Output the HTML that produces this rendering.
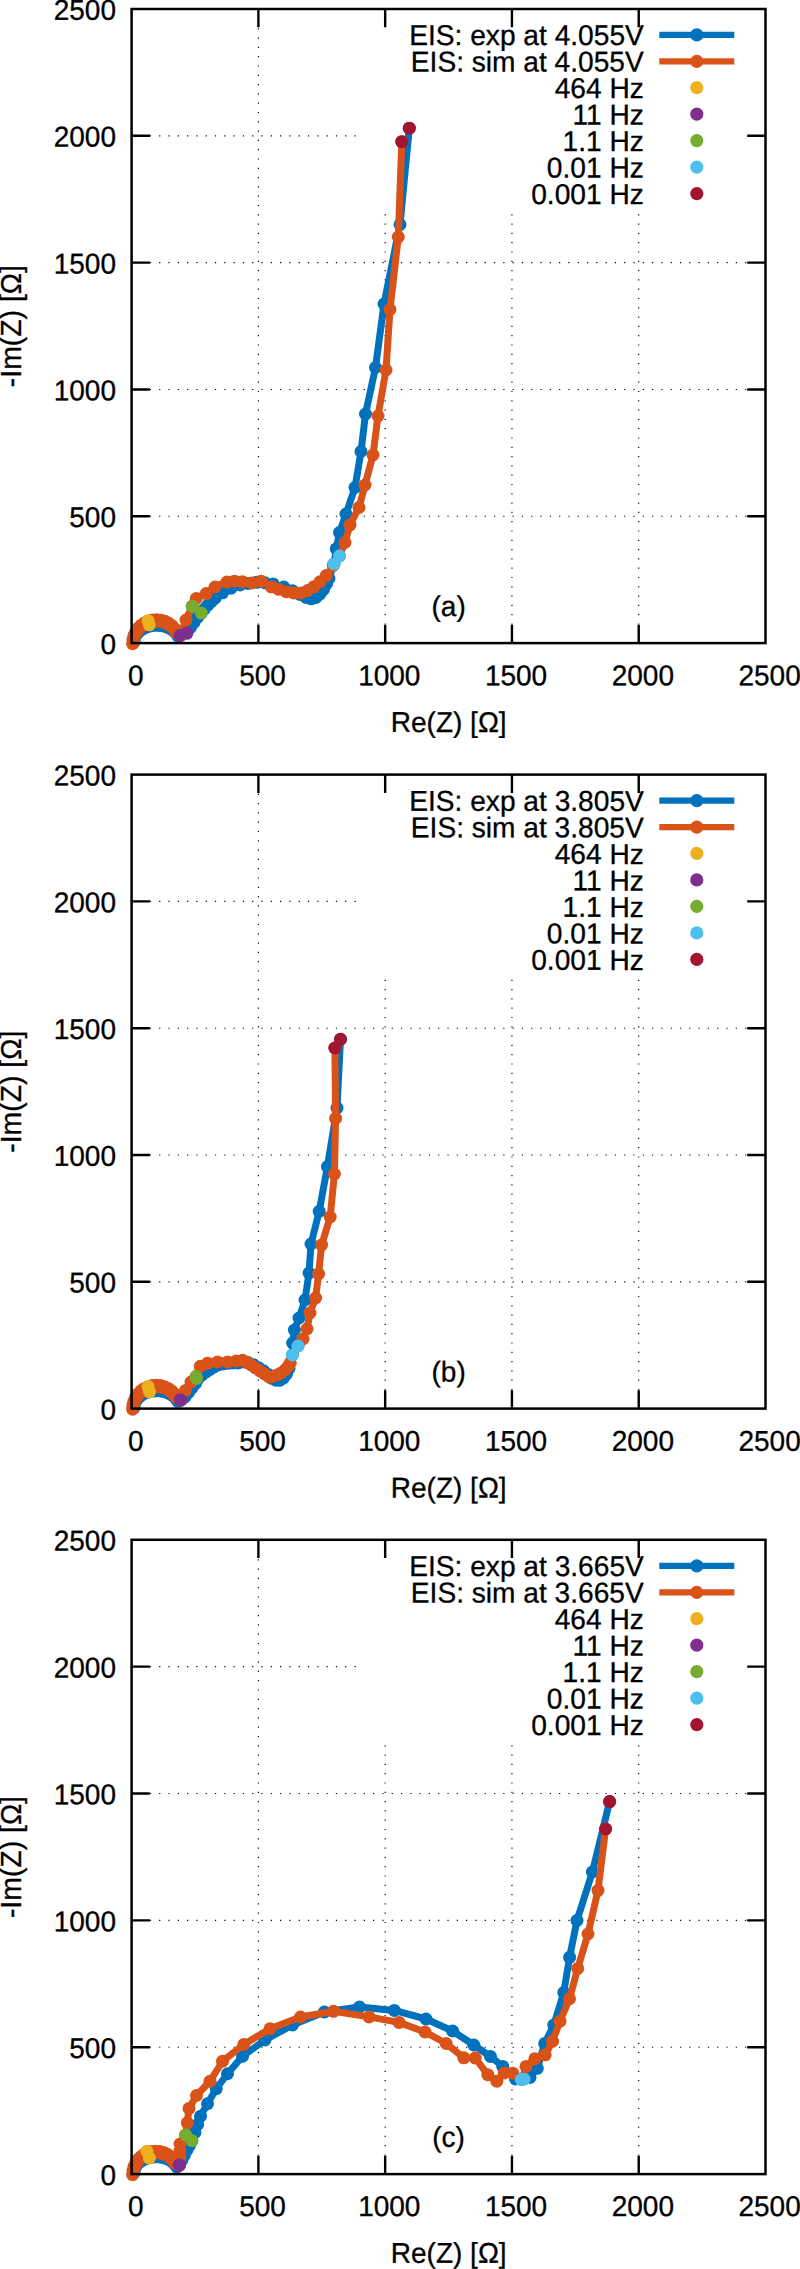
<!DOCTYPE html>
<html lang="en"><head><meta charset="utf-8"><title>EIS Nyquist plots</title>
<style>
html,body{margin:0;padding:0;background:#fff}
svg{display:block}
text{font-family:"Liberation Sans",sans-serif;font-size:28px;fill:#000;stroke:#000;stroke-width:0.3px}
.fr{fill:none;stroke:#000;stroke-width:2.5}
.tk{stroke:#000;stroke-width:2.4;fill:none}
.gd{stroke:#000;stroke-width:1.15;stroke-dasharray:1.2 8.1;fill:none}
.ln{fill:none;stroke-width:7;stroke-linejoin:round;stroke-linecap:butt}
</style></head>
<body>
<svg width="800" height="2269" viewBox="0 0 800 2269">
<rect width="800" height="2269" fill="#fff"/>
<g id="chart1">
<path class="gd" d="M258.38 643.2V9"/>
<path class="gd" d="M131.25 516.28H765.5"/>
<path class="gd" d="M385.16 643.2V212.5"/>
<path class="gd" d="M131.25 389.46H765.5"/>
<path class="gd" d="M511.94 643.2V212.5"/>
<path class="gd" d="M131.25 262.64H765.5"/>
<path class="gd" d="M638.72 643.2V212.5"/>
<path class="gd" d="M131.25 135.82H358"/>
<path class="ln" stroke="#0072bd" d="M134 642.1 L134.39 638.99 L135.56 635.99 L137.46 633.2 L140.03 630.71 L143.18 628.62 L146.81 627 L150.77 625.9 L154.95 625.36 L159.18 625.39 L163.34 626.01 L167.27 627.18 L170.84 628.86 L173.92 631 L176.41 633.53 L178.22 636.35 L183 636 L186.9 633.1 L190.5 627.5 L194 622.5 L197.5 617.5 L201.25 613.1 L204.5 609 L208 605 L211.5 601.5 L215 598.2 L218.5 595.5 L222.5 592.8 L227 590.2 L231 588.2 L235.5 586.4 L240 585 L244 584 L248 583.4 L254 582.8 L257 582.3 L265 582.8 L273.1 583.9 L278.5 585.3 L283.75 587 L288 588.8 L292.5 590.8 L296.5 592.7 L300 594.5 L306 597.5 L311.25 598.8 L316 597.5 L320 594 L323.5 589.5 L326.5 584 L329 578.5 L331.5 571 L334 564 L336.25 548.75 L339.5 532.5 L346 514 L355 487.5 L361 451.5 L365.5 414 L375.5 367.5 L384 304 L400 224.5 L409.3 128.2"/>
<g fill="#0072bd"><circle cx="134" cy="642.1" r="6.5"/><circle cx="134.39" cy="638.99" r="6.5"/><circle cx="135.56" cy="635.99" r="6.5"/><circle cx="137.46" cy="633.2" r="6.5"/><circle cx="140.03" cy="630.71" r="6.5"/><circle cx="143.18" cy="628.62" r="6.5"/><circle cx="146.81" cy="627" r="6.5"/><circle cx="150.77" cy="625.9" r="6.5"/><circle cx="154.95" cy="625.36" r="6.5"/><circle cx="159.18" cy="625.39" r="6.5"/><circle cx="163.34" cy="626.01" r="6.5"/><circle cx="167.27" cy="627.18" r="6.5"/><circle cx="170.84" cy="628.86" r="6.5"/><circle cx="173.92" cy="631" r="6.5"/><circle cx="176.41" cy="633.53" r="6.5"/><circle cx="178.22" cy="636.35" r="6.5"/><circle cx="186.9" cy="633.1" r="6.5"/><circle cx="190.5" cy="627.5" r="6.5"/><circle cx="194" cy="622.5" r="6.5"/><circle cx="197.5" cy="617.5" r="6.5"/><circle cx="201.25" cy="613.1" r="6.5"/><circle cx="204.5" cy="609" r="6.5"/><circle cx="208" cy="605" r="6.5"/><circle cx="211.5" cy="601.5" r="6.5"/><circle cx="215" cy="598.2" r="6.5"/><circle cx="222.5" cy="592.8" r="6.5"/><circle cx="231" cy="588.2" r="6.5"/><circle cx="240" cy="585" r="6.5"/><circle cx="248" cy="583.4" r="6.5"/><circle cx="257" cy="582.3" r="6.5"/><circle cx="265" cy="582.8" r="6.5"/><circle cx="273.1" cy="583.9" r="6.5"/><circle cx="283.75" cy="587" r="6.5"/><circle cx="292.5" cy="590.8" r="6.5"/><circle cx="300" cy="594.5" r="6.5"/><circle cx="306" cy="597.5" r="6.5"/><circle cx="311.25" cy="598.8" r="6.5"/><circle cx="316" cy="597.5" r="6.5"/><circle cx="320" cy="594" r="6.5"/><circle cx="323.5" cy="589.5" r="6.5"/><circle cx="326.5" cy="584" r="6.5"/><circle cx="329" cy="578.5" r="6.5"/><circle cx="334" cy="564" r="6.5"/><circle cx="336.25" cy="548.75" r="6.5"/><circle cx="339.5" cy="532.5" r="6.5"/><circle cx="346" cy="514" r="6.5"/><circle cx="355" cy="487.5" r="6.5"/><circle cx="361" cy="451.5" r="6.5"/><circle cx="365.5" cy="414" r="6.5"/><circle cx="375.5" cy="367.5" r="6.5"/><circle cx="384" cy="304" r="6.5"/><circle cx="400" cy="224.5" r="6.5"/><circle cx="409.3" cy="128.2" r="6.5"/></g>
<path class="ln" stroke="#d95319" d="M132.6 643.7 L132.97 639.48 L134.07 635.39 L135.86 631.56 L138.29 628.1 L141.28 625.14 L144.74 622.75 L148.56 621.02 L152.62 619.99 L156.8 619.71 L160.96 620.17 L164.97 621.36 L168.72 623.26 L172.08 625.79 L174.94 628.88 L177.23 632.43 L180 635.6 L183 628 L186 620 L189 613 L192.25 606.25 L196.25 598.5 L201 595.8 L206.2 593.6 L210.5 590 L215 587 L221 584.2 L227 582 L234.5 581.2 L242.5 581.7 L251.9 583 L261.25 581.3 L266.5 584 L271.25 586.8 L278.75 589.3 L286.25 591.7 L293.75 593 L301.25 593 L307.5 590.6 L313.75 586.8 L320 581.8 L326.25 575.6 L330.5 570 L333.3 565.5 L339.5 556 L345 542.5 L350 525 L359 507.5 L365 485 L373 455 L378 416 L386 370 L390 309.5 L398.3 237 L401.8 141.7"/>
<g fill="#d95319"><circle cx="132.6" cy="643.7" r="6.5"/><circle cx="132.97" cy="639.48" r="6.5"/><circle cx="134.07" cy="635.39" r="6.5"/><circle cx="135.86" cy="631.56" r="6.5"/><circle cx="138.29" cy="628.1" r="6.5"/><circle cx="141.28" cy="625.14" r="6.5"/><circle cx="144.74" cy="622.75" r="6.5"/><circle cx="148.56" cy="621.02" r="6.5"/><circle cx="152.62" cy="619.99" r="6.5"/><circle cx="156.8" cy="619.71" r="6.5"/><circle cx="160.96" cy="620.17" r="6.5"/><circle cx="164.97" cy="621.36" r="6.5"/><circle cx="168.72" cy="623.26" r="6.5"/><circle cx="172.08" cy="625.79" r="6.5"/><circle cx="174.94" cy="628.88" r="6.5"/><circle cx="177.23" cy="632.43" r="6.5"/><circle cx="180" cy="635.6" r="6.5"/><circle cx="186" cy="620" r="6.5"/><circle cx="192.25" cy="606.25" r="6.5"/><circle cx="196.25" cy="598.5" r="6.5"/><circle cx="206.2" cy="593.6" r="6.5"/><circle cx="215" cy="587" r="6.5"/><circle cx="227" cy="582" r="6.5"/><circle cx="234.5" cy="581.2" r="6.5"/><circle cx="242.5" cy="581.7" r="6.5"/><circle cx="251.9" cy="583" r="6.5"/><circle cx="261.25" cy="581.3" r="6.5"/><circle cx="271.25" cy="586.8" r="6.5"/><circle cx="278.75" cy="589.3" r="6.5"/><circle cx="286.25" cy="591.7" r="6.5"/><circle cx="293.75" cy="593" r="6.5"/><circle cx="301.25" cy="593" r="6.5"/><circle cx="307.5" cy="590.6" r="6.5"/><circle cx="313.75" cy="586.8" r="6.5"/><circle cx="320" cy="581.8" r="6.5"/><circle cx="326.25" cy="575.6" r="6.5"/><circle cx="333.3" cy="565.5" r="6.5"/><circle cx="339.5" cy="556" r="6.5"/><circle cx="345" cy="542.5" r="6.5"/><circle cx="350" cy="525" r="6.5"/><circle cx="359" cy="507.5" r="6.5"/><circle cx="365" cy="485" r="6.5"/><circle cx="373" cy="455" r="6.5"/><circle cx="378" cy="416" r="6.5"/><circle cx="386" cy="370" r="6.5"/><circle cx="390" cy="309.5" r="6.5"/><circle cx="398.3" cy="237" r="6.5"/><circle cx="401.8" cy="141.7" r="6.5"/></g>
<g fill="#d95319"><circle cx="133.8" cy="639" r="6.5"/><circle cx="135.07" cy="635.01" r="6.5"/><circle cx="137.06" cy="631.31" r="6.5"/><circle cx="139.71" cy="628.04" r="6.5"/><circle cx="142.93" cy="625.31" r="6.5"/><circle cx="146.61" cy="623.2" r="6.5"/><circle cx="150.62" cy="621.8" r="6.5"/><circle cx="154.82" cy="621.15" r="6.5"/><circle cx="159.07" cy="621.26" r="6.5"/><circle cx="163.23" cy="622.15" r="6.5"/><circle cx="167.15" cy="623.77" r="6.5"/><circle cx="170.7" cy="626.08" r="6.5"/><circle cx="173.76" cy="628.99" r="6.5"/><circle cx="176.22" cy="632.4" r="6.5"/></g>
<g fill="#edb120"><circle cx="149.3" cy="624.8" r="6.5"/><circle cx="148" cy="620.7" r="6.5"/></g>
<g fill="#7e2f8e"><circle cx="186.9" cy="633.1" r="6.5"/><circle cx="180" cy="635.6" r="6.5"/></g>
<g fill="#77ac30"><circle cx="201.25" cy="613.1" r="6.5"/><circle cx="192.25" cy="606.25" r="6.5"/></g>
<g fill="#4dbeee"><circle cx="334" cy="564" r="6.5"/><circle cx="339.5" cy="556" r="6.5"/></g>
<g fill="#a2142f"><circle cx="409.3" cy="128.2" r="6.5"/><circle cx="401.8" cy="141.7" r="6.5"/></g>
<path class="tk" d="M258.38 643.1v-18.3M258.38 9v18.3M131.6 516.28h18.3M765.5 516.28h-18.3M385.16 643.1v-18.3M385.16 9v18.3M131.6 389.46h18.3M765.5 389.46h-18.3M511.94 643.1v-18.3M511.94 9v18.3M131.6 262.64h18.3M765.5 262.64h-18.3M638.72 643.1v-18.3M638.72 9v18.3M131.6 135.82h18.3M765.5 135.82h-18.3"/>
<rect class="fr" x="131.6" y="9" width="633.9" height="634.1"/>
<text transform="translate(116 653.9) rotate(0.03) scale(1 1.02)" text-anchor="end">0</text><text transform="translate(135.7 685.2) rotate(0.03) scale(1 1.02)" text-anchor="middle">0</text>
<text transform="translate(116 527.08) rotate(0.03) scale(1 1.02)" text-anchor="end">500</text><text transform="translate(262.48 685.2) rotate(0.03) scale(1 1.02)" text-anchor="middle">500</text>
<text transform="translate(116 400.26) rotate(0.03) scale(1 1.02)" text-anchor="end">1000</text><text transform="translate(389.26 685.2) rotate(0.03) scale(1 1.02)" text-anchor="middle">1000</text>
<text transform="translate(116 273.44) rotate(0.03) scale(1 1.02)" text-anchor="end">1500</text><text transform="translate(516.04 685.2) rotate(0.03) scale(1 1.02)" text-anchor="middle">1500</text>
<text transform="translate(116 146.62) rotate(0.03) scale(1 1.02)" text-anchor="end">2000</text><text transform="translate(642.82 685.2) rotate(0.03) scale(1 1.02)" text-anchor="middle">2000</text>
<text transform="translate(116 19.8) rotate(0.03) scale(1 1.02)" text-anchor="end">2500</text><text transform="translate(769.6 685.2) rotate(0.03) scale(1 1.02)" text-anchor="middle">2500</text>
<text transform="translate(448.7 731.9) rotate(0.03) scale(1 1.02)" text-anchor="middle">Re(Z) [Ω]</text>
<text transform="translate(21.1 326.15) rotate(-90) scale(1 1.02)" text-anchor="middle" style="font-size:28.4px">-Im(Z) [Ω]</text>
<text transform="translate(448.6 615.9) rotate(0.03) scale(1 1.02)" text-anchor="middle">(a)</text>
<text transform="translate(643.8 45.1) rotate(0.03) scale(1.005 1.02)" text-anchor="end">EIS: exp at 4.055V</text><path stroke="#0072bd" stroke-width="6.2" d="M659.3 34.9H734.3"/><circle cx="696.8" cy="34.9" r="6.6" fill="#0072bd"/>
<text transform="translate(643.8 71.6) rotate(0.03) scale(1.005 1.02)" text-anchor="end">EIS: sim at 4.055V</text><path stroke="#d95319" stroke-width="6.2" d="M659.3 61.4H734.3"/><circle cx="696.8" cy="61.4" r="6.6" fill="#d95319"/>
<text transform="translate(643.8 98.1) rotate(0.03) scale(1.005 1.02)" text-anchor="end">464 Hz</text><circle cx="696.8" cy="87.6" r="6.6" fill="#edb120"/>
<text transform="translate(643.8 124.6) rotate(0.03) scale(1.005 1.02)" text-anchor="end">11 Hz</text><circle cx="696.8" cy="114.1" r="6.6" fill="#7e2f8e"/>
<text transform="translate(643.8 151.1) rotate(0.03) scale(1.005 1.02)" text-anchor="end">1.1 Hz</text><circle cx="696.8" cy="140.6" r="6.6" fill="#77ac30"/>
<text transform="translate(643.8 177.6) rotate(0.03) scale(1.005 1.02)" text-anchor="end">0.01 Hz</text><circle cx="696.8" cy="167.1" r="6.6" fill="#4dbeee"/>
<text transform="translate(643.8 204.1) rotate(0.03) scale(1.005 1.02)" text-anchor="end">0.001 Hz</text><circle cx="696.8" cy="193.6" r="6.6" fill="#a2142f"/>
</g>
<g id="chart2">
<path class="gd" d="M258.38 1408.7V774.6"/>
<path class="gd" d="M131.25 1281.8H765.5"/>
<path class="gd" d="M385.16 1408.7V978.1"/>
<path class="gd" d="M131.25 1155H765.5"/>
<path class="gd" d="M511.94 1408.7V978.1"/>
<path class="gd" d="M131.25 1028.2H765.5"/>
<path class="gd" d="M638.72 1408.7V978.1"/>
<path class="gd" d="M131.25 901.4H358"/>
<path class="ln" stroke="#0072bd" d="M134 1407.6 L134.38 1404.53 L135.52 1401.56 L137.38 1398.8 L139.89 1396.33 L142.97 1394.24 L146.52 1392.6 L150.41 1391.47 L154.52 1390.88 L158.71 1390.86 L162.83 1391.4 L166.75 1392.48 L170.33 1394.08 L173.46 1396.13 L176.02 1398.57 L177.94 1401.31 L180.6 1400 L185 1397 L188.5 1392.5 L192 1388 L195.5 1383.5 L197.5 1379.5 L202 1375 L206 1372 L210 1369.3 L214 1367 L218 1365 L223 1364 L228 1363.3 L233 1363 L238 1363 L243 1362 L248 1362.6 L253.5 1364.7 L258.5 1367.7 L263.5 1370.8 L268.3 1374.4 L272 1378.3 L276 1380.2 L280 1380.2 L283.5 1378 L286.5 1374 L289 1368.5 L291 1361.5 L292.4 1355 L292.6 1343 L294.4 1330 L299 1318 L305 1300 L309 1273 L311 1244 L319.2 1211.3 L327.4 1166.7 L337 1108 L340.5 1039.25"/>
<g fill="#0072bd"><circle cx="134" cy="1407.6" r="6.5"/><circle cx="134.38" cy="1404.53" r="6.5"/><circle cx="135.52" cy="1401.56" r="6.5"/><circle cx="137.38" cy="1398.8" r="6.5"/><circle cx="139.89" cy="1396.33" r="6.5"/><circle cx="142.97" cy="1394.24" r="6.5"/><circle cx="146.52" cy="1392.6" r="6.5"/><circle cx="150.41" cy="1391.47" r="6.5"/><circle cx="154.52" cy="1390.88" r="6.5"/><circle cx="158.71" cy="1390.86" r="6.5"/><circle cx="162.83" cy="1391.4" r="6.5"/><circle cx="166.75" cy="1392.48" r="6.5"/><circle cx="170.33" cy="1394.08" r="6.5"/><circle cx="173.46" cy="1396.13" r="6.5"/><circle cx="176.02" cy="1398.57" r="6.5"/><circle cx="177.94" cy="1401.31" r="6.5"/><circle cx="180.6" cy="1400" r="6.5"/><circle cx="185" cy="1397" r="6.5"/><circle cx="188.5" cy="1392.5" r="6.5"/><circle cx="192" cy="1388" r="6.5"/><circle cx="195.5" cy="1383.5" r="6.5"/><circle cx="197.5" cy="1379.5" r="6.5"/><circle cx="202" cy="1375" r="6.5"/><circle cx="206" cy="1372" r="6.5"/><circle cx="210" cy="1369.3" r="6.5"/><circle cx="214" cy="1367" r="6.5"/><circle cx="218" cy="1365" r="6.5"/><circle cx="223" cy="1364" r="6.5"/><circle cx="228" cy="1363.3" r="6.5"/><circle cx="233" cy="1363" r="6.5"/><circle cx="238" cy="1363" r="6.5"/><circle cx="243" cy="1362" r="6.5"/><circle cx="248" cy="1362.6" r="6.5"/><circle cx="253.5" cy="1364.7" r="6.5"/><circle cx="258.5" cy="1367.7" r="6.5"/><circle cx="263.5" cy="1370.8" r="6.5"/><circle cx="268.3" cy="1374.4" r="6.5"/><circle cx="272" cy="1378.3" r="6.5"/><circle cx="276" cy="1380.2" r="6.5"/><circle cx="280" cy="1380.2" r="6.5"/><circle cx="283.5" cy="1378" r="6.5"/><circle cx="286.5" cy="1374" r="6.5"/><circle cx="289" cy="1368.5" r="6.5"/><circle cx="292.4" cy="1355" r="6.5"/><circle cx="292.6" cy="1343" r="6.5"/><circle cx="294.4" cy="1330" r="6.5"/><circle cx="299" cy="1318" r="6.5"/><circle cx="305" cy="1300" r="6.5"/><circle cx="309" cy="1273" r="6.5"/><circle cx="311" cy="1244" r="6.5"/><circle cx="319.2" cy="1211.3" r="6.5"/><circle cx="327.4" cy="1166.7" r="6.5"/><circle cx="337" cy="1108" r="6.5"/><circle cx="340.5" cy="1039.25" r="6.5"/></g>
<path class="ln" stroke="#d95319" d="M132.6 1409.2 L132.96 1405.03 L134.03 1400.99 L135.78 1397.2 L138.14 1393.77 L141.07 1390.81 L144.45 1388.42 L148.19 1386.65 L152.18 1385.56 L156.3 1385.2 L160.42 1385.56 L164.41 1386.65 L168.15 1388.42 L171.53 1390.81 L174.46 1393.77 L176.82 1397.2 L180.6 1400 L183 1395 L185.5 1390.5 L188 1386.5 L191 1382 L196 1376.8 L198 1370 L200.3 1366.3 L204 1365 L207.6 1363.2 L212 1362 L217.5 1362 L222.5 1362 L227.5 1362 L232 1361.5 L236.2 1361 L242.6 1360.3 L246.8 1362.2 L251 1365 L255.5 1368 L260 1371 L264.5 1374 L269 1377 L273 1376.5 L277 1375 L281 1373 L285 1370 L288 1366.5 L290.3 1362.8 L298 1346 L303 1339 L307 1329 L310 1313 L315.6 1298 L318.6 1274 L321.6 1245 L330.2 1217 L334.4 1174 L335.6 1118.4 L334.9 1048"/>
<g fill="#d95319"><circle cx="132.6" cy="1409.2" r="6.5"/><circle cx="132.96" cy="1405.03" r="6.5"/><circle cx="134.03" cy="1400.99" r="6.5"/><circle cx="135.78" cy="1397.2" r="6.5"/><circle cx="138.14" cy="1393.77" r="6.5"/><circle cx="141.07" cy="1390.81" r="6.5"/><circle cx="144.45" cy="1388.42" r="6.5"/><circle cx="148.19" cy="1386.65" r="6.5"/><circle cx="152.18" cy="1385.56" r="6.5"/><circle cx="156.3" cy="1385.2" r="6.5"/><circle cx="160.42" cy="1385.56" r="6.5"/><circle cx="164.41" cy="1386.65" r="6.5"/><circle cx="168.15" cy="1388.42" r="6.5"/><circle cx="171.53" cy="1390.81" r="6.5"/><circle cx="174.46" cy="1393.77" r="6.5"/><circle cx="176.82" cy="1397.2" r="6.5"/><circle cx="180.6" cy="1400" r="6.5"/><circle cx="185.5" cy="1390.5" r="6.5"/><circle cx="191" cy="1382" r="6.5"/><circle cx="196" cy="1376.8" r="6.5"/><circle cx="200.3" cy="1366.3" r="6.5"/><circle cx="207.6" cy="1363.2" r="6.5"/><circle cx="217.5" cy="1362" r="6.5"/><circle cx="227.5" cy="1362" r="6.5"/><circle cx="236.2" cy="1361" r="6.5"/><circle cx="242.6" cy="1360.3" r="6.5"/><circle cx="246.8" cy="1362.2" r="6.5"/><circle cx="251" cy="1365" r="6.5"/><circle cx="255.5" cy="1368" r="6.5"/><circle cx="260" cy="1371" r="6.5"/><circle cx="264.5" cy="1374" r="6.5"/><circle cx="269" cy="1377" r="6.5"/><circle cx="273" cy="1376.5" r="6.5"/><circle cx="277" cy="1375" r="6.5"/><circle cx="281" cy="1373" r="6.5"/><circle cx="285" cy="1370" r="6.5"/><circle cx="288" cy="1366.5" r="6.5"/><circle cx="290.3" cy="1362.8" r="6.5"/><circle cx="298" cy="1346" r="6.5"/><circle cx="303" cy="1339" r="6.5"/><circle cx="307" cy="1329" r="6.5"/><circle cx="310" cy="1313" r="6.5"/><circle cx="315.6" cy="1298" r="6.5"/><circle cx="318.6" cy="1274" r="6.5"/><circle cx="321.6" cy="1245" r="6.5"/><circle cx="330.2" cy="1217" r="6.5"/><circle cx="334.4" cy="1174" r="6.5"/><circle cx="335.6" cy="1118.4" r="6.5"/><circle cx="334.9" cy="1048" r="6.5"/></g>
<g fill="#d95319"><circle cx="133.8" cy="1404.5" r="6.5"/><circle cx="135.04" cy="1400.57" r="6.5"/><circle cx="136.99" cy="1396.92" r="6.5"/><circle cx="139.58" cy="1393.68" r="6.5"/><circle cx="142.73" cy="1390.95" r="6.5"/><circle cx="146.33" cy="1388.83" r="6.5"/><circle cx="150.26" cy="1387.39" r="6.5"/><circle cx="154.39" cy="1386.68" r="6.5"/><circle cx="158.58" cy="1386.71" r="6.5"/><circle cx="162.7" cy="1387.49" r="6.5"/><circle cx="166.6" cy="1388.99" r="6.5"/><circle cx="170.17" cy="1391.17" r="6.5"/><circle cx="173.27" cy="1393.94" r="6.5"/><circle cx="175.81" cy="1397.22" r="6.5"/></g>
<g fill="#edb120"><circle cx="149.5" cy="1392" r="6.5"/><circle cx="148" cy="1386.5" r="6.5"/></g>
<g fill="#7e2f8e"><circle cx="180.9" cy="1400.2" r="6.5"/><circle cx="180.3" cy="1399.8" r="6.5"/></g>
<g fill="#77ac30"><circle cx="196.6" cy="1378.5" r="6.5"/><circle cx="195.9" cy="1376.6" r="6.5"/></g>
<g fill="#4dbeee"><circle cx="292.4" cy="1355" r="6.5"/><circle cx="298" cy="1346" r="6.5"/></g>
<g fill="#a2142f"><circle cx="340.5" cy="1039.25" r="6.5"/><circle cx="334.9" cy="1048" r="6.5"/></g>
<path class="tk" d="M258.38 1408.6v-18.3M258.38 774.6v18.3M131.6 1281.8h18.3M765.5 1281.8h-18.3M385.16 1408.6v-18.3M385.16 774.6v18.3M131.6 1155h18.3M765.5 1155h-18.3M511.94 1408.6v-18.3M511.94 774.6v18.3M131.6 1028.2h18.3M765.5 1028.2h-18.3M638.72 1408.6v-18.3M638.72 774.6v18.3M131.6 901.4h18.3M765.5 901.4h-18.3"/>
<rect class="fr" x="131.6" y="774.6" width="633.9" height="634"/>
<text transform="translate(116 1419.4) rotate(0.03) scale(1 1.02)" text-anchor="end">0</text><text transform="translate(135.7 1450.8) rotate(0.03) scale(1 1.02)" text-anchor="middle">0</text>
<text transform="translate(116 1292.6) rotate(0.03) scale(1 1.02)" text-anchor="end">500</text><text transform="translate(262.48 1450.8) rotate(0.03) scale(1 1.02)" text-anchor="middle">500</text>
<text transform="translate(116 1165.8) rotate(0.03) scale(1 1.02)" text-anchor="end">1000</text><text transform="translate(389.26 1450.8) rotate(0.03) scale(1 1.02)" text-anchor="middle">1000</text>
<text transform="translate(116 1039) rotate(0.03) scale(1 1.02)" text-anchor="end">1500</text><text transform="translate(516.04 1450.8) rotate(0.03) scale(1 1.02)" text-anchor="middle">1500</text>
<text transform="translate(116 912.2) rotate(0.03) scale(1 1.02)" text-anchor="end">2000</text><text transform="translate(642.82 1450.8) rotate(0.03) scale(1 1.02)" text-anchor="middle">2000</text>
<text transform="translate(116 785.4) rotate(0.03) scale(1 1.02)" text-anchor="end">2500</text><text transform="translate(769.6 1450.8) rotate(0.03) scale(1 1.02)" text-anchor="middle">2500</text>
<text transform="translate(448.7 1497.5) rotate(0.03) scale(1 1.02)" text-anchor="middle">Re(Z) [Ω]</text>
<text transform="translate(21.1 1091.7) rotate(-90) scale(1 1.02)" text-anchor="middle" style="font-size:28.4px">-Im(Z) [Ω]</text>
<text transform="translate(448.6 1381.5) rotate(0.03) scale(1 1.02)" text-anchor="middle">(b)</text>
<text transform="translate(643.8 810.9) rotate(0.03) scale(1.005 1.02)" text-anchor="end">EIS: exp at 3.805V</text><path stroke="#0072bd" stroke-width="6.2" d="M659.3 800.7H734.3"/><circle cx="696.8" cy="800.7" r="6.6" fill="#0072bd"/>
<text transform="translate(643.8 837.4) rotate(0.03) scale(1.005 1.02)" text-anchor="end">EIS: sim at 3.805V</text><path stroke="#d95319" stroke-width="6.2" d="M659.3 827.2H734.3"/><circle cx="696.8" cy="827.2" r="6.6" fill="#d95319"/>
<text transform="translate(643.8 863.9) rotate(0.03) scale(1.005 1.02)" text-anchor="end">464 Hz</text><circle cx="696.8" cy="853.4" r="6.6" fill="#edb120"/>
<text transform="translate(643.8 890.4) rotate(0.03) scale(1.005 1.02)" text-anchor="end">11 Hz</text><circle cx="696.8" cy="879.9" r="6.6" fill="#7e2f8e"/>
<text transform="translate(643.8 916.9) rotate(0.03) scale(1.005 1.02)" text-anchor="end">1.1 Hz</text><circle cx="696.8" cy="906.4" r="6.6" fill="#77ac30"/>
<text transform="translate(643.8 943.4) rotate(0.03) scale(1.005 1.02)" text-anchor="end">0.01 Hz</text><circle cx="696.8" cy="932.9" r="6.6" fill="#4dbeee"/>
<text transform="translate(643.8 969.9) rotate(0.03) scale(1.005 1.02)" text-anchor="end">0.001 Hz</text><circle cx="696.8" cy="959.4" r="6.6" fill="#a2142f"/>
</g>
<g id="chart3">
<path class="gd" d="M258.38 2174.2V1539.8"/>
<path class="gd" d="M131.25 2047.24H765.5"/>
<path class="gd" d="M385.16 2174.2V1743.3"/>
<path class="gd" d="M131.25 1920.38H765.5"/>
<path class="gd" d="M511.94 2174.2V1743.3"/>
<path class="gd" d="M131.25 1793.52H765.5"/>
<path class="gd" d="M638.72 2174.2V1743.3"/>
<path class="gd" d="M131.25 1666.66H358"/>
<path class="ln" stroke="#0072bd" d="M133.9 2173 L134.28 2170.04 L135.39 2167.18 L137.21 2164.51 L139.66 2162.13 L142.68 2160.12 L146.15 2158.54 L149.95 2157.45 L153.97 2156.88 L158.07 2156.86 L162.1 2157.38 L165.93 2158.42 L169.43 2159.96 L172.49 2161.94 L175 2164.29 L176.88 2166.93 L179.4 2165 L182 2160 L184.5 2155 L187 2150 L189.5 2145.5 L191.9 2140.6 L193.5 2136.5 L195 2132.5 L197.7 2124.5 L200.5 2116.25 L207.5 2103.75 L216.25 2088.75 L227.5 2073.75 L242.5 2056.25 L265 2040 L292.5 2025 L324.4 2012 L359.5 2007 L394.25 2010.4 L426 2019 L452.6 2031 L473.8 2045 L490.5 2056.5 L502.7 2066.4 L515.5 2079 L530 2077.5 L537.3 2068.3 L544.7 2043.5 L553.75 2025 L563.75 1992.5 L569.6 1957.3 L577 1920.4 L592.4 1872 L609.6 1801.6"/>
<g fill="#0072bd"><circle cx="133.9" cy="2173" r="6.5"/><circle cx="134.28" cy="2170.04" r="6.5"/><circle cx="135.39" cy="2167.18" r="6.5"/><circle cx="137.21" cy="2164.51" r="6.5"/><circle cx="139.66" cy="2162.13" r="6.5"/><circle cx="142.68" cy="2160.12" r="6.5"/><circle cx="146.15" cy="2158.54" r="6.5"/><circle cx="149.95" cy="2157.45" r="6.5"/><circle cx="153.97" cy="2156.88" r="6.5"/><circle cx="158.07" cy="2156.86" r="6.5"/><circle cx="162.1" cy="2157.38" r="6.5"/><circle cx="165.93" cy="2158.42" r="6.5"/><circle cx="169.43" cy="2159.96" r="6.5"/><circle cx="172.49" cy="2161.94" r="6.5"/><circle cx="175" cy="2164.29" r="6.5"/><circle cx="176.88" cy="2166.93" r="6.5"/><circle cx="179.4" cy="2165" r="6.5"/><circle cx="182" cy="2160" r="6.5"/><circle cx="184.5" cy="2155" r="6.5"/><circle cx="187" cy="2150" r="6.5"/><circle cx="189.5" cy="2145.5" r="6.5"/><circle cx="191.9" cy="2140.6" r="6.5"/><circle cx="195" cy="2132.5" r="6.5"/><circle cx="197.7" cy="2124.5" r="6.5"/><circle cx="200.5" cy="2116.25" r="6.5"/><circle cx="207.5" cy="2103.75" r="6.5"/><circle cx="216.25" cy="2088.75" r="6.5"/><circle cx="227.5" cy="2073.75" r="6.5"/><circle cx="242.5" cy="2056.25" r="6.5"/><circle cx="265" cy="2040" r="6.5"/><circle cx="292.5" cy="2025" r="6.5"/><circle cx="324.4" cy="2012" r="6.5"/><circle cx="359.5" cy="2007" r="6.5"/><circle cx="394.25" cy="2010.4" r="6.5"/><circle cx="426" cy="2019" r="6.5"/><circle cx="452.6" cy="2031" r="6.5"/><circle cx="473.8" cy="2045" r="6.5"/><circle cx="490.5" cy="2056.5" r="6.5"/><circle cx="502.7" cy="2066.4" r="6.5"/><circle cx="515.5" cy="2079" r="6.5"/><circle cx="530" cy="2077.5" r="6.5"/><circle cx="537.3" cy="2068.3" r="6.5"/><circle cx="544.7" cy="2043.5" r="6.5"/><circle cx="553.75" cy="2025" r="6.5"/><circle cx="563.75" cy="1992.5" r="6.5"/><circle cx="569.6" cy="1957.3" r="6.5"/><circle cx="577" cy="1920.4" r="6.5"/><circle cx="592.4" cy="1872" r="6.5"/><circle cx="609.6" cy="1801.6" r="6.5"/></g>
<path class="ln" stroke="#d95319" d="M132.6 2174.6 L132.95 2170.54 L134 2166.6 L135.71 2162.9 L138.03 2159.56 L140.89 2156.67 L144.2 2154.34 L147.87 2152.61 L151.77 2151.56 L155.8 2151.2 L159.83 2151.56 L163.73 2152.61 L167.4 2154.34 L170.71 2156.67 L173.57 2159.56 L175.89 2162.9 L179.4 2165 L179.7 2158 L180 2151 L180 2144 L182.5 2139 L185.6 2135 L186.5 2129 L187.3 2122.8 L189 2108.5 L196.5 2095.5 L210 2081.25 L222.5 2061.25 L243.75 2044.5 L270 2028.75 L300.5 2017 L333.5 2011.3 L369 2016.9 L399 2022.4 L425 2032 L446.2 2043.5 L463.8 2057.8 L475.2 2058 L487.8 2074.7 L496.8 2081.2 L504.2 2073 L512.7 2073.2 L522.5 2078.7 L526.1 2066.4 L534.8 2058.8 L545.2 2054.8 L552.5 2041.25 L560 2021.25 L569.5 1998.75 L577.7 1968.5 L588 1934 L598 1890.4 L605.6 1829"/>
<g fill="#d95319"><circle cx="132.6" cy="2174.6" r="6.5"/><circle cx="132.95" cy="2170.54" r="6.5"/><circle cx="134" cy="2166.6" r="6.5"/><circle cx="135.71" cy="2162.9" r="6.5"/><circle cx="138.03" cy="2159.56" r="6.5"/><circle cx="140.89" cy="2156.67" r="6.5"/><circle cx="144.2" cy="2154.34" r="6.5"/><circle cx="147.87" cy="2152.61" r="6.5"/><circle cx="151.77" cy="2151.56" r="6.5"/><circle cx="155.8" cy="2151.2" r="6.5"/><circle cx="159.83" cy="2151.56" r="6.5"/><circle cx="163.73" cy="2152.61" r="6.5"/><circle cx="167.4" cy="2154.34" r="6.5"/><circle cx="170.71" cy="2156.67" r="6.5"/><circle cx="173.57" cy="2159.56" r="6.5"/><circle cx="175.89" cy="2162.9" r="6.5"/><circle cx="179.4" cy="2165" r="6.5"/><circle cx="179.7" cy="2158" r="6.5"/><circle cx="180" cy="2151" r="6.5"/><circle cx="180" cy="2144" r="6.5"/><circle cx="185.6" cy="2135" r="6.5"/><circle cx="187.3" cy="2122.8" r="6.5"/><circle cx="189" cy="2108.5" r="6.5"/><circle cx="196.5" cy="2095.5" r="6.5"/><circle cx="210" cy="2081.25" r="6.5"/><circle cx="222.5" cy="2061.25" r="6.5"/><circle cx="243.75" cy="2044.5" r="6.5"/><circle cx="270" cy="2028.75" r="6.5"/><circle cx="300.5" cy="2017" r="6.5"/><circle cx="333.5" cy="2011.3" r="6.5"/><circle cx="369" cy="2016.9" r="6.5"/><circle cx="399" cy="2022.4" r="6.5"/><circle cx="425" cy="2032" r="6.5"/><circle cx="446.2" cy="2043.5" r="6.5"/><circle cx="463.8" cy="2057.8" r="6.5"/><circle cx="475.2" cy="2058" r="6.5"/><circle cx="487.8" cy="2074.7" r="6.5"/><circle cx="496.8" cy="2081.2" r="6.5"/><circle cx="504.2" cy="2073" r="6.5"/><circle cx="512.7" cy="2073.2" r="6.5"/><circle cx="522.5" cy="2078.7" r="6.5"/><circle cx="526.1" cy="2066.4" r="6.5"/><circle cx="534.8" cy="2058.8" r="6.5"/><circle cx="545.2" cy="2054.8" r="6.5"/><circle cx="552.5" cy="2041.25" r="6.5"/><circle cx="560" cy="2021.25" r="6.5"/><circle cx="569.5" cy="1998.75" r="6.5"/><circle cx="577.7" cy="1968.5" r="6.5"/><circle cx="588" cy="1934" r="6.5"/><circle cx="598" cy="1890.4" r="6.5"/><circle cx="605.6" cy="1829" r="6.5"/></g>
<g fill="#d95319"><circle cx="133.79" cy="2170.03" r="6.5"/><circle cx="135.01" cy="2166.19" r="6.5"/><circle cx="136.91" cy="2162.64" r="6.5"/><circle cx="139.45" cy="2159.49" r="6.5"/><circle cx="142.53" cy="2156.84" r="6.5"/><circle cx="146.05" cy="2154.78" r="6.5"/><circle cx="149.89" cy="2153.37" r="6.5"/><circle cx="153.93" cy="2152.68" r="6.5"/><circle cx="158.03" cy="2152.71" r="6.5"/><circle cx="162.06" cy="2153.47" r="6.5"/><circle cx="165.88" cy="2154.93" r="6.5"/><circle cx="169.36" cy="2157.05" r="6.5"/><circle cx="172.4" cy="2159.75" r="6.5"/><circle cx="174.88" cy="2162.94" r="6.5"/></g>
<g fill="#edb120"><circle cx="149.4" cy="2158.1" r="6.5"/><circle cx="146.9" cy="2151.25" r="6.5"/></g>
<g fill="#7e2f8e"><circle cx="179.6" cy="2165.1" r="6.5"/><circle cx="179.2" cy="2164.9" r="6.5"/></g>
<g fill="#77ac30"><circle cx="191.9" cy="2140.6" r="6.5"/><circle cx="185.6" cy="2135" r="6.5"/></g>
<g fill="#4dbeee"><circle cx="521.3" cy="2079.6" r="6.5"/><circle cx="524" cy="2079.2" r="6.5"/></g>
<g fill="#a2142f"><circle cx="609.6" cy="1801.6" r="6.5"/><circle cx="605.6" cy="1829" r="6.5"/></g>
<path class="tk" d="M258.38 2174.1v-18.3M258.38 1539.8v18.3M131.6 2047.24h18.3M765.5 2047.24h-18.3M385.16 2174.1v-18.3M385.16 1539.8v18.3M131.6 1920.38h18.3M765.5 1920.38h-18.3M511.94 2174.1v-18.3M511.94 1539.8v18.3M131.6 1793.52h18.3M765.5 1793.52h-18.3M638.72 2174.1v-18.3M638.72 1539.8v18.3M131.6 1666.66h18.3M765.5 1666.66h-18.3"/>
<rect class="fr" x="131.6" y="1539.8" width="633.9" height="634.3"/>
<text transform="translate(116 2184.9) rotate(0.03) scale(1 1.02)" text-anchor="end">0</text><text transform="translate(135.7 2216) rotate(0.03) scale(1 1.02)" text-anchor="middle">0</text>
<text transform="translate(116 2058.04) rotate(0.03) scale(1 1.02)" text-anchor="end">500</text><text transform="translate(262.48 2216) rotate(0.03) scale(1 1.02)" text-anchor="middle">500</text>
<text transform="translate(116 1931.18) rotate(0.03) scale(1 1.02)" text-anchor="end">1000</text><text transform="translate(389.26 2216) rotate(0.03) scale(1 1.02)" text-anchor="middle">1000</text>
<text transform="translate(116 1804.32) rotate(0.03) scale(1 1.02)" text-anchor="end">1500</text><text transform="translate(516.04 2216) rotate(0.03) scale(1 1.02)" text-anchor="middle">1500</text>
<text transform="translate(116 1677.46) rotate(0.03) scale(1 1.02)" text-anchor="end">2000</text><text transform="translate(642.82 2216) rotate(0.03) scale(1 1.02)" text-anchor="middle">2000</text>
<text transform="translate(116 1550.6) rotate(0.03) scale(1 1.02)" text-anchor="end">2500</text><text transform="translate(769.6 2216) rotate(0.03) scale(1 1.02)" text-anchor="middle">2500</text>
<text transform="translate(448.7 2262.7) rotate(0.03) scale(1 1.02)" text-anchor="middle">Re(Z) [Ω]</text>
<text transform="translate(21.1 1857.05) rotate(-90) scale(1 1.02)" text-anchor="middle" style="font-size:28.4px">-Im(Z) [Ω]</text>
<text transform="translate(448.6 2146.7) rotate(0.03) scale(1 1.02)" text-anchor="middle">(c)</text>
<text transform="translate(643.8 1576.1) rotate(0.03) scale(1.005 1.02)" text-anchor="end">EIS: exp at 3.665V</text><path stroke="#0072bd" stroke-width="6.2" d="M659.3 1565.9H734.3"/><circle cx="696.8" cy="1565.9" r="6.6" fill="#0072bd"/>
<text transform="translate(643.8 1602.6) rotate(0.03) scale(1.005 1.02)" text-anchor="end">EIS: sim at 3.665V</text><path stroke="#d95319" stroke-width="6.2" d="M659.3 1592.4H734.3"/><circle cx="696.8" cy="1592.4" r="6.6" fill="#d95319"/>
<text transform="translate(643.8 1629.1) rotate(0.03) scale(1.005 1.02)" text-anchor="end">464 Hz</text><circle cx="696.8" cy="1618.6" r="6.6" fill="#edb120"/>
<text transform="translate(643.8 1655.6) rotate(0.03) scale(1.005 1.02)" text-anchor="end">11 Hz</text><circle cx="696.8" cy="1645.1" r="6.6" fill="#7e2f8e"/>
<text transform="translate(643.8 1682.1) rotate(0.03) scale(1.005 1.02)" text-anchor="end">1.1 Hz</text><circle cx="696.8" cy="1671.6" r="6.6" fill="#77ac30"/>
<text transform="translate(643.8 1708.6) rotate(0.03) scale(1.005 1.02)" text-anchor="end">0.01 Hz</text><circle cx="696.8" cy="1698.1" r="6.6" fill="#4dbeee"/>
<text transform="translate(643.8 1735.1) rotate(0.03) scale(1.005 1.02)" text-anchor="end">0.001 Hz</text><circle cx="696.8" cy="1724.6" r="6.6" fill="#a2142f"/>
</g>
</svg>
</body></html>
